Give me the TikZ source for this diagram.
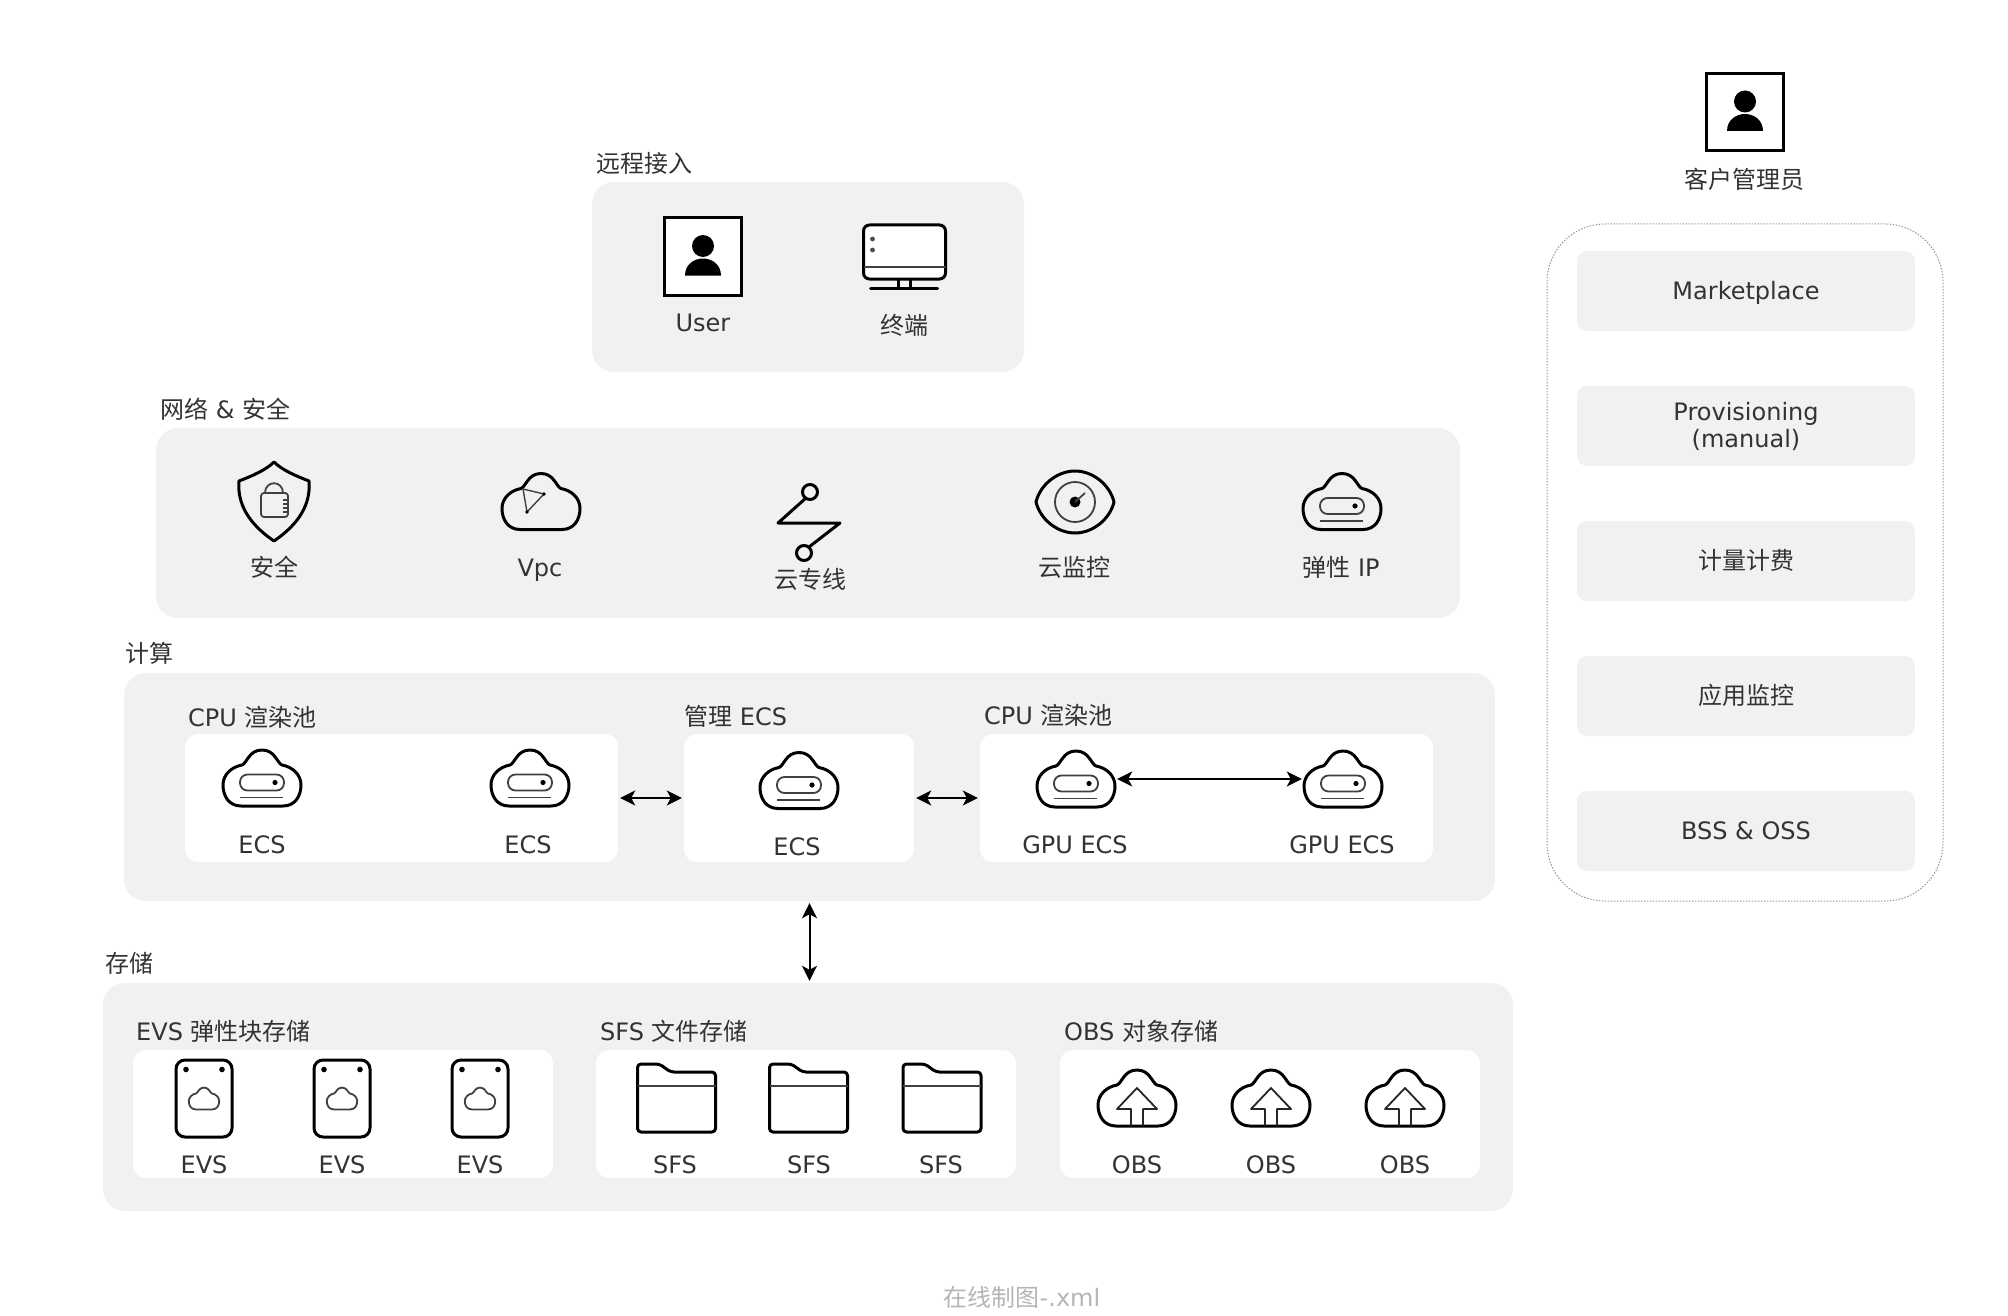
\documentclass[tikz,border=0pt]{standalone}
\usepackage{fontspec}
\setmainfont{DejaVu Sans}
\newfontfamily\cjkFont{Noto Sans CJK SC}
\usetikzlibrary{arrows.meta}
\definecolor{panelColor}{RGB}{241,241,241}
\definecolor{labelColor}{RGB}{51,51,51}
\definecolor{markColor}{RGB}{181,181,181}
\definecolor{outerColor}{RGB}{150,150,150}
\tikzstyle{sheet} = [x = 1pt, y = -1pt]
\tikzstyle{panelStyle} = [fill=panelColor, rounded corners = 22pt, inner sep=0pt]
\tikzstyle{poolStyle} = [fill=white, rounded corners = 13pt, inner sep=0pt]
\tikzstyle{rowStyle} = [fill=panelColor, rounded corners = 10pt, inner sep=0pt, align=center, minimum width=338, minimum height=80, text=labelColor, font=\fontsize{24}{27}\selectfont]
\tikzstyle{singleRow} = [rowStyle, text height=20pt, text depth=3pt]
\tikzstyle{outerStyle} = [draw=outerColor, dash pattern=on 1.5pt off 1.5pt, line width=1pt, rounded corners = 58pt, inner sep=0pt]
\tikzstyle{textStyle} = [text=labelColor, inner sep=0pt, text height=20pt, text depth=3pt, font=\fontsize{24}{27}\selectfont]
\tikzstyle{titleStyle} = [textStyle, anchor=west]
\tikzstyle{iconSpot} = [inner sep=0pt, minimum width=78, minimum height=56]
\tikzstyle{iconLine} = [color=black, line width=3pt, line join=round]
\tikzstyle{thinLine} = [color=black!75, line width=1.8pt, line join=round]
\tikzstyle{linkArrow} = [color=black, line width=2pt, {Stealth[length=15pt,width=15pt,inset=4pt]}-{Stealth[length=15pt,width=15pt,inset=4pt]}, shorten >=2pt, shorten <=2pt]
\newcommand{\zh}[1]{{\cjkFont #1}}
\newcommand{\groupPanel}[6]{\node (#1) [#2, minimum width={#5-#3}, minimum height={#6-#4}] at ({(#3+#5)/2},{(#4+#6)/2}) {};}
\newcommand{\cloudOutline}[1]{\draw [iconLine, #1] (-21,28) .. controls (-33,28) and (-39,18) .. (-39,7) .. controls (-39,-3) and (-31,-11) .. (-20,-13) .. controls (-15,-15) and (-13,-28) .. (0,-28) .. controls (13,-28) and (15,-15) .. (20,-13) .. controls (31,-11) and (39,-3) .. (39,7) .. controls (39,18) and (33,28) .. (21,28) -- cycle;}
\newcommand{\personIcon}[3]{
  \begin{scope}[shift={(#2,#3)}]
    \node (#1) [draw=black, fill=white, line width=3pt, minimum size=77, inner sep=0pt] at (0,0) {};
    \fill (0,-10.5) circle (11);
    \fill (-18,19) .. controls (-18,8) and (-9,2) .. (0,2) .. controls (9,2) and (18,8) .. (18,19) -- cycle;
  \end{scope}
}
\newcommand{\terminalIcon}[3]{
  \begin{scope}[shift={(#2,#3)}]
    \node (#1) [iconSpot] at (0,0) {};
    \draw [iconLine, fill=white, rounded corners=6pt] (-41,-27) rectangle (41,27);
    \draw [thinLine] (-41,15) -- (41,15);
    \draw [iconLine, line width=2.4pt] (-6,27) rectangle (6,36);
    \draw [iconLine, line cap=round] (-34,36) -- (33,36);
    \fill [black!70] (-32,-13) circle (2.4) (-32,-2) circle (2.4);
  \end{scope}
}
\newcommand{\shieldIcon}[3]{
  \begin{scope}[shift={(#2,#3)}]
    \node (#1) [iconSpot, minimum height=79] at (0,39.5) {};
    \draw [iconLine] (0,0) .. controls (-8,8) and (-22,14) .. (-35,19) .. controls (-37,42) and (-25,62) .. (0,79) .. controls (25,62) and (37,42) .. (35,19) .. controls (22,14) and (8,8) .. (0,0) -- cycle;
    \draw [thinLine, rounded corners=3pt] (-13,31) rectangle (14,55);
    \draw [thinLine] (-9,31) .. controls (-9,18) and (9,18) .. (9,31);
    \draw [thinLine, line width=1.2pt] (9,38) -- (14,38) (9,42) -- (14,42) (9,46) -- (14,46) (9,50) -- (14,50);
  \end{scope}
}
\newcommand{\vpcIcon}[3]{
  \begin{scope}[shift={(#2,#3)}]
    \node (#1) [iconSpot] at (0,0) {};
    \cloudOutline{}
    \draw [thinLine, line width=1.4pt] (-18,-12.5) -- (3,-7.5) -- (-14,10.5) -- cycle;
    \fill (-14,10.5) circle (1.8) (3,-7.5) circle (1.8);
  \end{scope}
}
\newcommand{\directIcon}[3]{
  \begin{scope}[shift={(#2,#3)}]
    \node (#1) [iconSpot, minimum width=62, minimum height=76] at (0,0) {};
    \draw [iconLine] (1,-31) circle (7.5) (-5,30) circle (7.5);
    \draw [iconLine] (-3,-25) -- (-31,0) -- (31,0) -- (0,24);
  \end{scope}
}
\newcommand{\eyeIcon}[3]{
  \begin{scope}[shift={(#2,#3)}]
    \node (#1) [iconSpot, minimum height=62] at (0,0) {};
    \draw [iconLine] (-39,0) .. controls (-35,-17) and (-18,-31) .. (0,-31) .. controls (18,-31) and (35,-17) .. (39,0) .. controls (35,17) and (18,31) .. (0,31) .. controls (-18,31) and (-35,17) .. (-39,0) -- cycle;
    \draw [thinLine] (0,0) circle (20);
    \fill (0,0) circle (5.5);
    \draw [thinLine] (0,0) -- (10,-9);
  \end{scope}
}
\newcommand{\serverCloud}[3]{
  \begin{scope}[shift={(#2,#3)}]
    \node (#1) [iconSpot] at (0,0) {};
    \cloudOutline{}
    \draw [thinLine, rounded corners=7.5pt] (-22,-3.5) rectangle (22,12.5);
    \fill (13,4.5) circle (2.6);
    \draw [thinLine] (-22,19.5) -- (21,19.5);
  \end{scope}
}
\newcommand{\diskIcon}[3]{
  \begin{scope}[shift={(#2,#3)}]
    \node (#1) [draw=black, line width=3pt, rounded corners=9pt, minimum width=56, minimum height=77, inner sep=0pt] at (0,0) {};
    \fill (-18,-29) circle (2.8) (18,-29) circle (2.8);
    \begin{scope}[scale=.39]
      \cloudOutline{thinLine, line width=1.8pt}
    \end{scope}
  \end{scope}
}
\newcommand{\folderIcon}[3]{
  \begin{scope}[shift={(#2,#3)}]
    \node (#1) [iconSpot, minimum width=79, minimum height=68] at (0,0) {};
    \draw [iconLine, rounded corners=3.5pt] (-39,-34) -- (-17,-34) -- (-6,-26) -- (39,-26) -- (39,34) -- (-39,34) -- cycle;
    \draw [thinLine, line width=2.4pt] (-39,-12) -- (39,-12);
  \end{scope}
}
\newcommand{\bucketIcon}[3]{
  \begin{scope}[shift={(#2,#3)}]
    \node (#1) [iconSpot] at (0,0) {};
    \cloudOutline{}
    \draw [thinLine, color=black!85] (-6,28) -- (-6,11) -- (-20,11) -- (0,-10) -- (20,11) -- (6,11) -- (6,28);
  \end{scope}
}
\begin{document}
\begin{tikzpicture}[sheet]
  \useasboundingbox (0,0) rectangle (2008,1316);
  % right column
  \personIcon{adminIcon}{1745}{112}
  \node (adminLabel) [textStyle] at (1744,180) {\zh{客户管理员}};
  \groupPanel{manageOuter}{outerStyle}{1547}{224}{1943}{901}
  \node (marketRow) [singleRow] at (1746,291) {Marketplace};
  \node (provisionRow) [rowStyle] at (1746,426) {Provisioning\\(manual)};
  \node (billingRow) [singleRow] at (1746,561) {\zh{计量计费}};
  \node (monitorRow) [singleRow] at (1746,696) {\zh{应用监控}};
  \node (bssRow) [singleRow] at (1746,831) {BSS \& OSS};
  % remote access
  \node (accessTitle) [titleStyle] at (596,164) {\zh{远程接入}};
  \groupPanel{accessPanel}{panelStyle}{592}{182}{1024}{372}
  \personIcon{userIcon}{703}{256.5}
  \node (userLabel) [textStyle] at (703,323) {User};
  \terminalIcon{terminalSpot}{904.5}{252}
  \node (terminalLabel) [textStyle] at (904,326) {\zh{终端}};
  % network
  \node (networkTitle) [titleStyle] at (160,410) {\zh{网络} \& \zh{安全}};
  \groupPanel{networkPanel}{panelStyle}{156}{428}{1460}{618}
  \shieldIcon{shieldSpot}{274}{462}
  \node (shieldLabel) [textStyle] at (274,568) {\zh{安全}};
  \vpcIcon{vpcSpot}{541}{501.5}
  \node (vpcLabel) [textStyle] at (540,568) {Vpc};
  \directIcon{directSpot}{809}{523}
  \node (directLabel) [textStyle] at (810,580) {\zh{云专线}};
  \eyeIcon{eyeSpot}{1075}{502}
  \node (eyeLabel) [textStyle] at (1074,568) {\zh{云监控}};
  \serverCloud{eipSpot}{1342}{501.5}
  \node (eipLabel) [textStyle] at (1341,568) {\zh{弹性} IP};
  % compute
  \node (computeTitle) [titleStyle] at (125,654) {\zh{计算}};
  \groupPanel{computePanel}{panelStyle}{124}{673}{1495}{901}
  \node (cpuTitle) [titleStyle] at (188,718) {CPU \zh{渲染池}};
  \node (manageTitle) [titleStyle] at (684,717) {\zh{管理} ECS};
  \node (gpuTitle) [titleStyle] at (984,716) {CPU \zh{渲染池}};
  \groupPanel{cpuPool}{poolStyle}{185}{734}{618}{862}
  \groupPanel{managePool}{poolStyle}{684}{734}{914}{862}
  \groupPanel{gpuPool}{poolStyle}{980}{734}{1433}{862}
  \serverCloud{ecsSpotA}{262}{778}
  \node (ecsLabelA) [textStyle] at (262,845) {ECS};
  \serverCloud{ecsSpotB}{530}{778}
  \node (ecsLabelB) [textStyle] at (528,845) {ECS};
  \serverCloud{ecsSpotC}{799}{780.5}
  \node (ecsLabelC) [textStyle] at (797,847) {ECS};
  \serverCloud{gpuSpotA}{1076}{779}
  \node (gpuLabelA) [textStyle] at (1075,845) {GPU ECS};
  \serverCloud{gpuSpotB}{1343}{779}
  \node (gpuLabelB) [textStyle] at (1342,845) {GPU ECS};
  % storage
  \node (storageTitle) [titleStyle] at (105,964) {\zh{存储}};
  \groupPanel{storagePanel}{panelStyle}{103}{983}{1513}{1211}
  \node (evsTitle) [titleStyle] at (136,1032) {EVS \zh{弹性块存储}};
  \node (sfsTitle) [titleStyle] at (600,1032) {SFS \zh{文件存储}};
  \node (obsTitle) [titleStyle] at (1064,1032) {OBS \zh{对象存储}};
  \groupPanel{evsPool}{poolStyle}{133}{1050}{553}{1178}
  \groupPanel{sfsPool}{poolStyle}{596}{1050}{1016}{1178}
  \groupPanel{obsPool}{poolStyle}{1060}{1050}{1480}{1178}
  \foreach \column [count=\num] in {204,342,480} {
    \diskIcon{evsSpot\num}{\column}{1098.5}
    \node (evsLabel\num) [textStyle] at (\column,1165) {EVS};
  }
  \foreach \column/\labelColumn [count=\num] in {676.5/675,808.5/809,942/941} {
    \folderIcon{sfsSpot\num}{\column}{1098}
    \node (sfsLabel\num) [textStyle] at (\labelColumn,1165) {SFS};
  }
  \foreach \column [count=\num] in {1137,1271,1405} {
    \bucketIcon{obsSpot\num}{\column}{1098}
    \node (obsLabel\num) [textStyle] at (\column,1165) {OBS};
  }
  % links
  \draw [linkArrow] (cpuPool) -- (managePool);
  \draw [linkArrow] (managePool) -- (gpuPool);
  \draw [linkArrow] (gpuSpotA) -- (gpuSpotB);
  \draw [linkArrow] (computePanel.south) -- (computePanel.south |- storagePanel.north);
  \node (sourceMark) [textStyle, text=markColor] at (1022,1298) {\zh{在线制图}-.xml};
\end{tikzpicture}
\end{document}
